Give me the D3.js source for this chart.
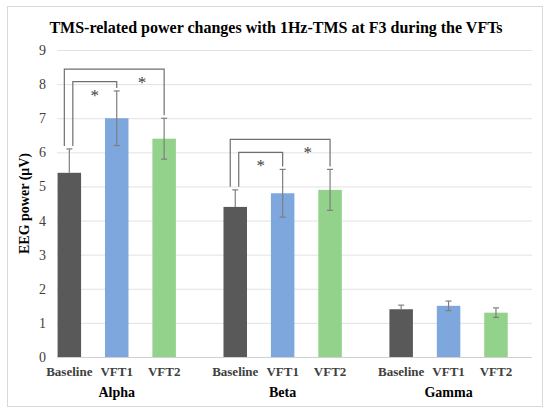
<!DOCTYPE html>
<html>
<head>
<meta charset="utf-8">
<script src="https://cdn.jsdelivr.net/npm/d3@7"></script>
<style>
  body { margin: 0; background: #fff; }
  text { font-family: "Liberation Serif", "Times New Roman", serif; }
</style>
</head>
<body>
<div id="chart"></div>
<script>
// data
var bands = ["Alpha", "Beta", "Gamma"],
    conditions = ["Baseline", "VFT1", "VFT2"],
    means = [[5.4, 7.0, 6.4], [4.4, 4.8, 4.9], [1.4, 1.5, 1.3]],
    errors = [[0.7, 0.8, 0.6], [0.5, 0.7, 0.6], [0.12, 0.14, 0.14]],
    yTicks = [0, 1, 2, 3, 4, 5, 6, 7, 8, 9];

// significance brackets: band index, from condition, to condition, height of bar line
var brackets = [
  {band: 0, a: 0, b: 1, level: 8.07},
  {band: 0, a: 0, b: 2, level: 8.44},
  {band: 1, a: 0, b: 1, level: 6.0},
  {band: 1, a: 0, b: 2, level: 6.38}
];

var colors = ["#595959", "#7da7dd", "#93d28b"];

var width = 550,
    height = 414;

var svg = d3.select("#chart")
  .append("svg")
  .attr("width", width)
  .attr("height", height);

// outer frame
svg.append("rect")
  .attr("x", 7.5).attr("y", 6.5)
  .attr("width", 535).attr("height", 400)
  .attr("fill", "#fff")
  .attr("stroke", "#d9d9d9");

// slot positions: 3 bars per band, 1.5 slot gap between bands
var slot = function(g, c) { return g * 3.5 + c; };

var x = d3.scaleLinear()
  .domain([-0.26, 9.76])
  .range([57, 532]);

var y = d3.scaleLinear()
  .domain([0, 9])
  .range([357, 50]);

var barW = 23.5;

// gridlines
svg.append("g")
  .selectAll("line")
  .data(yTicks)
  .enter()
  .append("line")
  .attr("x1", x.range()[0]).attr("x2", x.range()[1])
  .attr("y1", function(d) { return y(d) + 0.5; })
  .attr("y2", function(d) { return y(d) + 0.5; })
  .attr("stroke", function(d) { return d === 0 ? "#d0d0d0" : "#e2e2e2"; })
  .attr("stroke-width", 1);

// y tick labels
svg.append("g")
  .selectAll("text")
  .data(yTicks)
  .enter()
  .append("text")
  .attr("x", 46)
  .attr("y", function(d) { return y(d) + 5; })
  .attr("text-anchor", "end")
  .attr("font-size", 14)
  .attr("fill", "#404040")
  .text(function(d) { return d; });

// flatten into rows
var rows = [];
bands.forEach(function(b, g) {
  conditions.forEach(function(c, i) {
    rows.push({g: g, c: i, cond: c, v: means[g][i], e: errors[g][i]});
  });
});

// bars
svg.append("g")
  .selectAll("rect")
  .data(rows)
  .enter()
  .append("rect")
  .attr("x", function(d) { return x(slot(d.g, d.c)) - barW / 2; })
  .attr("y", function(d) { return y(d.v); })
  .attr("width", barW)
  .attr("height", function(d) { return y(0) - y(d.v); })
  .attr("fill", function(d) { return colors[d.c]; });

// error bars (baseline lower half is lost in the dark bar, so plus only)
var eb = svg.append("g")
  .attr("stroke", "#7f7f7f")
  .attr("stroke-width", 1.2);

rows.forEach(function(d) {
  var cx = x(slot(d.g, d.c));
  var lo = d.c === 0 ? d.v : d.v - d.e;
  eb.append("line")
    .attr("x1", cx).attr("x2", cx)
    .attr("y1", y(d.v + d.e)).attr("y2", y(lo));
  var caps = d.c === 0 ? [d.v + d.e] : [d.v + d.e, d.v - d.e];
  caps.forEach(function(t) {
    eb.append("line")
      .attr("x1", cx - 3).attr("x2", cx + 3)
      .attr("y1", y(t)).attr("y2", y(t));
  });
});

// significance brackets
var br = svg.append("g")
  .attr("fill", "none")
  .attr("stroke", "#6f6f6f")
  .attr("stroke-width", 1.2);

brackets.forEach(function(k) {
  var inner = (k.b === 1);
  var xa = x(slot(k.band, k.a)) + (inner ? 3.5 : -5),
      xb = x(slot(k.band, k.b));
  var ya = y(means[k.band][k.a] + errors[k.band][k.a]) - 3,
      yb = y(means[k.band][k.b] + errors[k.band][k.b]) - 3,
      yl = y(k.level);
  br.append("path")
    .attr("d", "M" + xa + "," + ya + "V" + yl + "H" + xb + "V" + yb);

  // star sits between the two bars just under the line
  var sx = inner ? (xa + xb) / 2 : (x(slot(k.band, 1)) + x(slot(k.band, 2))) / 2 + 1.5;
  svg.append("text")
    .attr("x", sx)
    .attr("y", yl + 19)
    .attr("text-anchor", "middle")
    .attr("font-size", 17)
    .attr("fill", "#404040")
    .text("*");
});

// category labels
svg.append("g")
  .selectAll("text")
  .data(rows)
  .enter()
  .append("text")
  .attr("x", function(d) { return x(slot(d.g, d.c)); })
  .attr("y", 376)
  .attr("text-anchor", "middle")
  .attr("font-size", 13)
  .attr("font-weight", "bold")
  .attr("fill", "#404040")
  .text(function(d) { return d.cond; });

// band labels
svg.append("g")
  .selectAll("text")
  .data(bands)
  .enter()
  .append("text")
  .attr("x", function(d, g) { return x(slot(g, 1)); })
  .attr("y", 397)
  .attr("text-anchor", "middle")
  .attr("font-size", 14)
  .attr("font-weight", "bold")
  .attr("fill", "#000")
  .text(function(d) { return d; });

// y axis title
svg.append("text")
  .attr("transform", "translate(29," + ((y(0) + y(9)) / 2) + ") rotate(-90)")
  .attr("text-anchor", "middle")
  .attr("font-size", 14)
  .attr("font-weight", "bold")
  .text("EEG power (μV)");

// chart title
svg.append("text")
  .attr("x", 276)
  .attr("y", 33)
  .attr("text-anchor", "middle")
  .attr("font-size", 16)
  .attr("font-weight", "bold")
  .text("TMS-related power changes with 1Hz-TMS at F3 during the VFTs");
</script>
</body>
</html>
